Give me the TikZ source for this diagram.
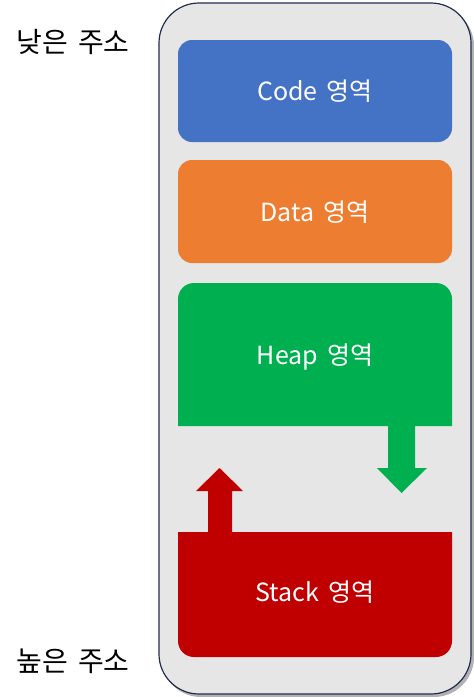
\documentclass[tikz,border=0pt]{standalone}
\usepackage{fontspec}
\setmainfont[WordSpace={1.6,0,0}]{Noto Sans CJK KR}
\definecolor{cgray}{HTML}{E7E6E6}
\definecolor{cnavy}{HTML}{1F2D4E}
\definecolor{cblue}{HTML}{4472C4}
\definecolor{corange}{HTML}{ED7D31}
\definecolor{cgreen}{HTML}{00B050}
\definecolor{cred}{HTML}{C00000}
\begin{document}
\begin{tikzpicture}[x=1pt,y=-1pt,
  lbl/.style={text=white,font=\fontsize{25}{28}\selectfont},
  side/.style={text=black,font=\fontsize{28}{32}\selectfont,anchor=west}]
\useasboundingbox (0,0) rectangle (474,697);
% shadow
\fill[gray!60,rounded corners=40pt] (161,6) rectangle (474,697);
% container
\draw[fill=cgray,draw=cnavy,line width=1.2pt,rounded corners=40pt] (159,3) rectangle (471,694);
% boxes
\fill[cblue,rounded corners=14pt] (178,40) rectangle (452,142);
\node[lbl] (code) at (315,91) {Code 영역};
\fill[corange,rounded corners=14pt] (178,160) rectangle (452,263);
\node[lbl] (data) at (315,212) {Data 영역};
\fill[cgreen] (178,426) [rounded corners=16pt] -- (178,283) -- (452,283) [sharp corners] -- (452,426) -- cycle;
\node[lbl] (heap) at (315,357) {Heap 영역};
\fill[cred] (178,532) -- (452,532) [rounded corners=16pt] -- (452,657) -- (178,657) [sharp corners] -- cycle;
\node[lbl] (stack) at (315,592) {Stack 영역};
% arrows
\fill[cgreen] (388,425) -- (415,425) -- (415,468) -- (427,468) -- (401.5,493) -- (377,468) -- (388,468) -- cycle;
\fill[cred] (208,533) -- (232,533) -- (232,491) -- (243,491) -- (219.5,468) -- (196,491) -- (208,491) -- cycle;
% side labels
\node[side] (low) at (13,42) {낮은 주소};
\node[side] (high) at (13,661) {높은 주소};
\end{tikzpicture}
\end{document}
